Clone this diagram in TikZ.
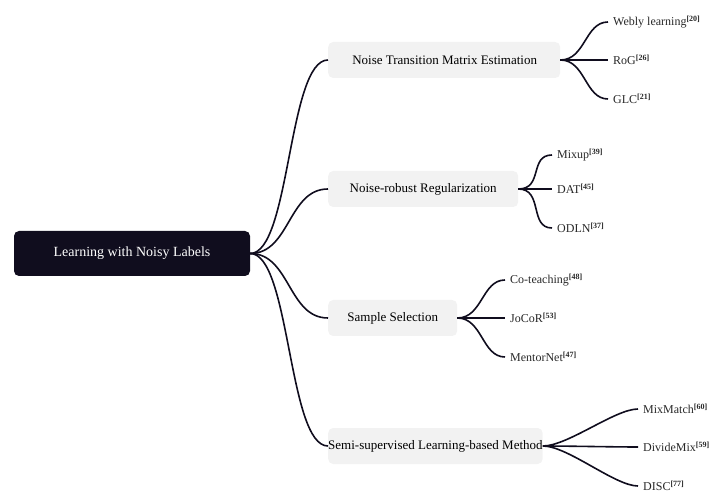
\documentclass[tikz,border=0pt]{standalone}
\usepackage{fontspec}
\setmainfont{Liberation Serif}
\begin{document}
\begin{tikzpicture}[x=1pt,y=-1pt,
  root/.style={fill={rgb,255:red,16;green,13;blue,30}, text=white, rounded corners=5pt, minimum height=45pt, minimum width=236pt, font=\fontsize{14}{16}\selectfont, inner sep=0pt},
  cat/.style={fill={rgb,255:red,242;green,242;blue,242}, rounded corners=5pt, minimum height=36pt, anchor=west, font=\fontsize{13}{15}\selectfont, inner sep=0pt},
  leaf/.style={anchor=west, font=\fontsize{12}{14}\selectfont, inner sep=0pt, text={rgb,255:red,40;green,40;blue,40}},
  br/.style={line width=1.6pt, draw={rgb,255:red,16;green,13;blue,30}}]
\useasboundingbox (0,0) rectangle (720,502);
\node[root] (r) at (132,253.5) {Learning with Noisy Labels};
\node[cat, minimum width=232pt] (c1) at (328,60) {\hspace*{1pt}Noise Transition Matrix Estimation};
\node[cat, minimum width=190pt] (c2) at (328,189) {Noise-robust Regularization};
\node[cat, minimum width=129pt] (c3) at (328,318) {Sample Selection};
\node[cat, minimum width=205pt] (c4) at (328,446) {Semi-supervised Learning-based Method};
\newcommand{\rf}[1]{\textsuperscript{\textbf{[#1]}}}
\node[leaf] (l11) at (613,22) {Webly learning\rf{20}};
\node[leaf] (l12) at (613,60) {RoG\rf{26}};
\node[leaf] (l13) at (613,99) {GLC\rf{21}};
\node[leaf] (l21) at (557,155) {Mixup\rf{39}};
\node[leaf] (l22) at (557,189) {DAT\rf{45}};
\node[leaf] (l23) at (557,228) {ODLN\rf{37}};
\node[leaf] (l31) at (510,280) {Co-teaching\rf{48}};
\node[leaf] (l32) at (510,318) {JoCoR\rf{53}};
\node[leaf] (l33) at (510,357) {MentorNet\rf{47}};
\node[leaf] (l41) at (643,409) {MixMatch\rf{60}};
\node[leaf] (l42) at (643,447) {DivideMix\rf{59}};
\node[leaf] (l43) at (643,486) {DISC\rf{77}};
\foreach \c in {c1,c2,c3,c4}
  \draw[br] (r.east) .. controls ([xshift=40pt]r.east) and ([xshift=-40pt]\c.west) .. (\c.west);
\foreach \c/\a/\b/\d in {c1/l11/l12/l13,c2/l21/l22/l23,c3/l31/l32/l33,c4/l41/l42/l43}
  \foreach \l in {\a,\b,\d}
    \draw[br] (\c.east) .. controls ([xshift=25pt]\c.east) and ([xshift=-28pt]\l.west) .. ([xshift=-5pt]\l.west);
\end{tikzpicture}
\end{document}
